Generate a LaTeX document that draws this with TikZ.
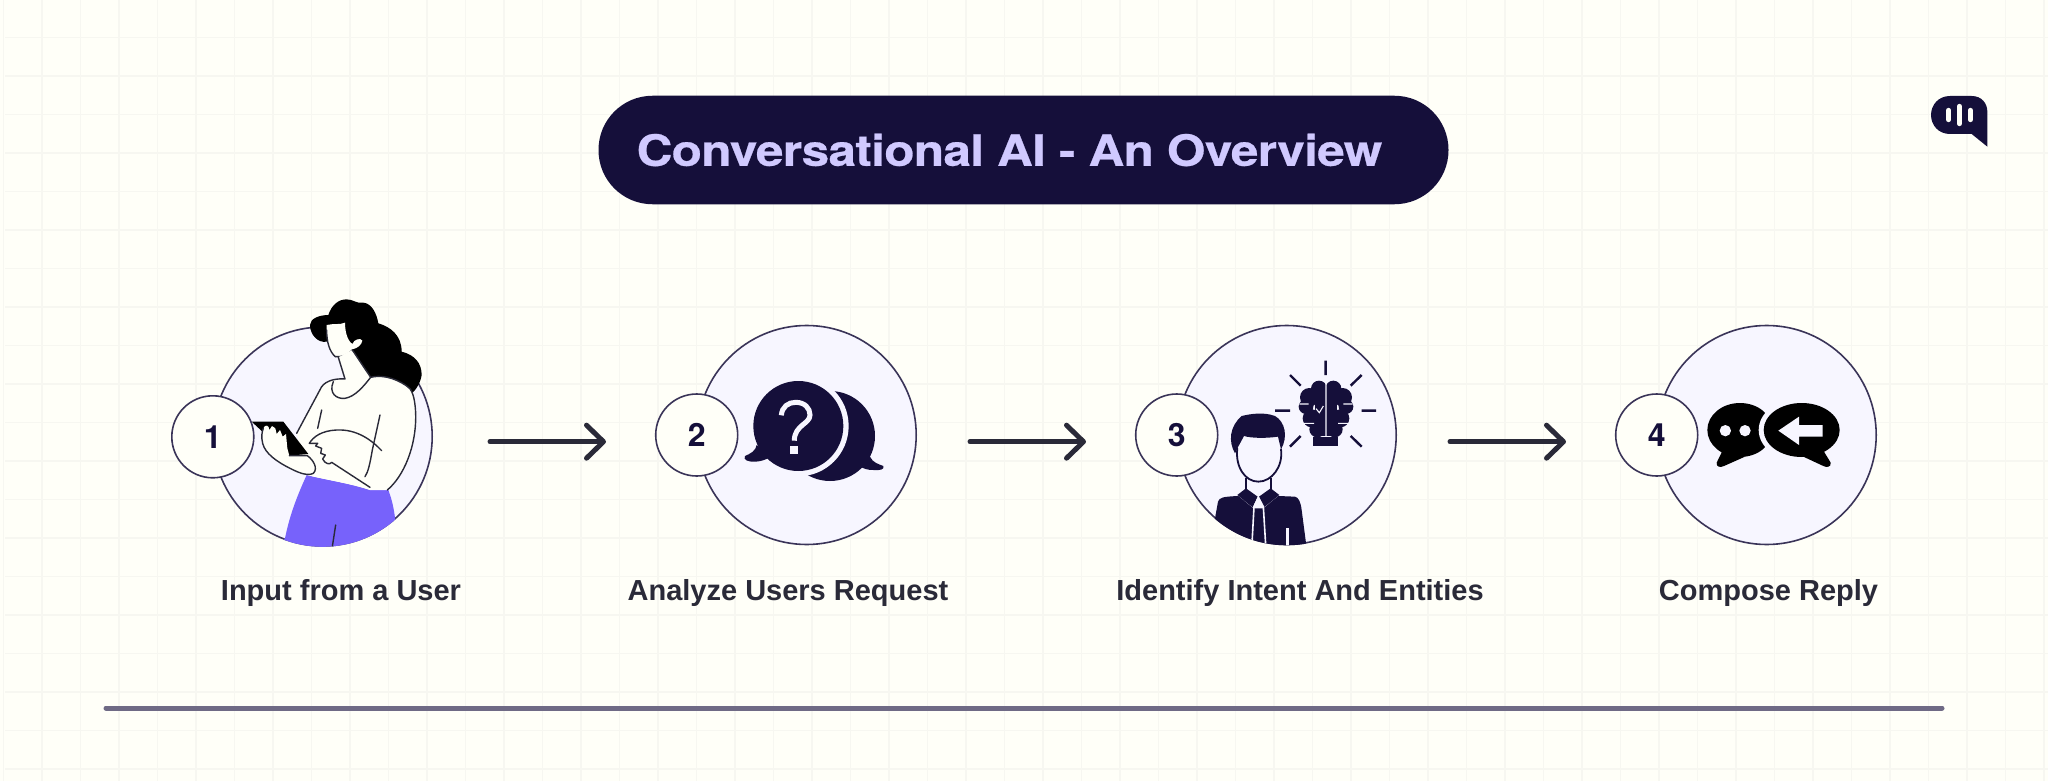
\documentclass[tikz,border=0pt]{standalone}
\usepackage{fontspec}
\usetikzlibrary{arrows.meta}
\setmainfont{Liberation Sans}
\newfontfamily\titlefont[FakeStretch=1.15,LetterSpace=-1.5,FakeBold=0.6]{TeX Gyre Heros}
\newfontfamily\digitfont{TeX Gyre Heros}
\definecolor{bgc}{HTML}{FFFFF8}
\definecolor{gridc}{HTML}{F7F7F1}
\definecolor{navy}{HTML}{150F3A}
\definecolor{ringc}{HTML}{3A3458}
\definecolor{lav}{HTML}{F7F6FF}
\definecolor{lilac}{HTML}{D0C9FF}
\definecolor{purp}{HTML}{7762FB}
\definecolor{inkc}{HTML}{2A2A38}
\definecolor{rulec}{HTML}{6F6A85}
\tikzset{x=1pt,y=-1pt,
 bigcirc/.style={circle,draw=ringc,line width=1.6pt,fill=lav,minimum size=219pt,inner sep=0pt},
 numcirc/.style={circle,draw=ringc,line width=1.6pt,fill=bgc,minimum size=82pt,inner sep=0pt,text=navy,font=\digitfont\fontsize{32}{32}\selectfont\bfseries},
 captext/.style={text=inkc,font=\fontsize{29}{30}\selectfont\bfseries},
 flowline/.style={draw=inkc,line width=5pt,line cap=round,line join=round,-{Straight Barb[length=17pt,width=33pt,round]}},
 figline/.style={draw=inkc,line width=1.4pt,line cap=round,line join=round},
 ray/.style={draw=navy,line width=2.4pt},
 zoomone/.style={shift={(150,280)},scale=1/3},
 zoomtwo/.style={shift={(640,310)},scale=1/3},
 zoomthree/.style={shift={(1120,310)},scale=1/3},
 zoomfour/.style={shift={(1600,310)},scale=1/3},
 zoomlogo/.style={shift={(1900,70)},scale=1/3}}
\begin{document}
\begin{tikzpicture}
\useasboundingbox (0,0) rectangle (2048,781);
\fill[bgc] (0,0) rectangle (2048,781);
\foreach \i in {0,...,53}{\draw[gridc,line width=1.1pt] ({3.5+38.5*\i},0) -- ({3.5+38.5*\i},781);}
\foreach \i in {0,...,20}{\draw[gridc,line width=1.1pt] (5,{-1+38.5*\i}) -- (2048,{-1+38.5*\i});}
% title
\node[fill=navy,rounded corners=54pt,minimum width=850pt,minimum height=108.5pt,inner sep=0pt] (title) at (1023.5,150) {};
\node[text=lilac,font=\titlefont\fontsize{43}{43}\selectfont\bfseries] (titletext) at (1009.5,150) {Conversational AI - An Overview};
% logo
\begin{scope}[zoomlogo]
\fill[navy] (150,78) -- (215,78) .. controls (245,78) and (262,100) .. (262,125) -- (262,230) -- (215,192) -- (150,192) .. controls (115,192) and (93,165) .. (93,135) .. controls (93,105) and (115,78) .. (150,78) -- cycle;
\draw[bgc,line width=5pt,line cap=round] (146,121) -- (146,149) (178,109) -- (178,161) (211,121) -- (211,149);
\end{scope}
% large circles
\node[bigcirc] (big1) at (322.7,436.5) {};
\node[bigcirc] (big2) at (806.7,435) {};
\node[bigcirc] (big3) at (1286.7,435) {};
\node[bigcirc] (big4) at (1766.7,435) {};
% woman
\begin{scope}[zoomone]
\begin{scope}
\clip (518,469.5) circle (331);
\fill[purp] (470,585) .. controls (530,600) and (600,610) .. (660,630) -- (715,630) .. controls (728,665) and (732,690) .. (736,720) -- (745,830) -- (360,830) -- (405,775) .. controls (420,700) and (445,640) .. (470,585) -- cycle;
\draw[figline] (557,735) -- (547,800);
\end{scope}
\fill[black] (530,185) .. controls (505,190) and (480,165) .. (480,135) .. controls (480,115) and (510,105) .. (535,105) .. controls (545,75) and (565,58) .. (590,58) .. controls (610,58) and (620,72) .. (640,68) .. controls (665,70) and (680,100) .. (685,130) .. controls (720,140) and (755,165) .. (755,215) .. controls (795,225) and (815,250) .. (815,285) .. controls (812,305) and (800,330) .. (782,342) -- (660,292) -- (605,210) -- (590,190) -- cycle;
\fill[bgc] (530,135) .. controls (550,130) and (570,135) .. (585,128) .. controls (585,150) and (590,180) .. (607,192) .. controls (612,178) and (632,172) .. (637,182) .. controls (635,195) and (622,205) .. (607,208) .. controls (600,225) and (570,235) .. (552,228) .. controls (535,215) and (528,170) .. (530,135) -- cycle;
\draw[figline] (607,210) .. controls (595,225) and (575,232) .. (556,230);
\draw[figline] (530,150) .. controls (530,185) and (538,215) .. (556,230);
% jumper
\fill[bgc] (565,232) -- (585,297) .. controls (560,295) and (530,300) .. (515,320) -- (440,460) -- (470,585) .. controls (530,600) and (600,610) .. (660,630) -- (712,630) .. controls (760,590) and (800,500) .. (797,400) .. controls (795,350) and (785,325) .. (770,318) .. controls (730,290) and (690,285) .. (662,292) -- (607,210) -- cycle;
\draw[figline] (565,232) -- (585,297) .. controls (560,295) and (530,300) .. (515,320) -- (440,460);
\draw[figline] (607,210) -- (662,292) .. controls (690,285) and (730,290) .. (770,318) .. controls (785,325) and (795,350) .. (797,400) .. controls (800,500) and (760,590) .. (712,630);
\draw[figline] (550,305) .. controls (535,340) and (560,358) .. (585,355) .. controls (615,350) and (640,320) .. (662,292);
\draw[figline] (515,390) -- (503,445);
% tablet and holding hand
\fill[black] (305,425) -- (400,425) -- (475,522) -- (415,527) -- cycle;
\fill[bgc] (340,445) .. controls (345,432) and (358,435) .. (358,450) -- (366,438) -- (376,445) -- (380,462) -- (390,450) -- (398,470) -- (408,462) -- (412,505) -- (418,527) -- (472,527) .. controls (490,540) and (505,565) .. (490,580) .. controls (470,590) and (440,575) .. (420,565) .. controls (380,545) and (345,520) .. (338,490) .. controls (333,470) and (336,455) .. (340,445) -- cycle;
\draw[figline] (418,527) -- (472,527) .. controls (490,540) and (505,565) .. (490,580) .. controls (470,590) and (440,575) .. (420,565) .. controls (380,545) and (345,520) .. (338,490) .. controls (333,470) and (336,455) .. (340,445);
% pointing hand and sleeve
\fill[bgc] (478,490) .. controls (505,455) and (560,445) .. (610,452) .. controls (650,465) and (680,495) .. (695,512) -- (660,622) -- (545,548) -- (520,545) -- (505,500) -- cycle;
\draw[figline] (690,405) -- (667,510) .. controls (660,550) and (655,575) .. (645,590);
\draw[figline] (478,490) .. controls (490,470) and (515,452) .. (560,450) .. controls (620,447) and (665,480) .. (695,512);
\draw[figline] (478,490) -- (503,490) -- (497,498) -- (515,505) -- (512,520) -- (526,525) -- (518,537) .. controls (525,552) and (540,555) .. (545,547) -- (660,622);
\end{scope}
% question bubbles
\begin{scope}[zoomtwo]
\fill[navy] (570,378) circle (135);
\fill[navy] (690,440) .. controls (698,458) and (715,462) .. (730,468) .. controls (735,478) and (720,482) .. (700,480) .. controls (685,480) and (670,478) .. (655,465) -- cycle;
\fill[lav] (475,348) circle (151);
\fill[navy] (475,348) circle (135);
\fill[navy] (350,405) .. controls (348,422) and (330,432) .. (315,438) .. controls (308,450) and (325,456) .. (345,455) .. controls (360,455) and (375,450) .. (395,440) -- cycle;
\draw[lav,line width=5pt] (424,316) .. controls (426,290) and (445,277) .. (467,277) .. controls (495,277) and (510,295) .. (510,315) .. controls (510,342) and (463,345) .. (463,392);
\fill[lav] (451,407) rectangle (475,432);
\end{scope}
% person and brain
\begin{scope}[zoomthree]
\begin{scope}
\clip (500,375) circle (331);
\fill[navy] (285,625) -- (294,575) .. controls (298,562) and (310,560) .. (355,558) -- (400,595) -- (430,595) -- (475,558) -- (525,560) .. controls (535,562) and (542,575) .. (545,600) -- (562,730) -- (270,730) -- cycle;
\fill[navy] (378,535) -- (352,555) -- (398,592) -- (413,560) -- cycle;
\fill[navy] (452,535) -- (478,555) -- (432,592) -- (417,560) -- cycle;
\draw[lav,line width=1.6pt,line join=round] (402,590) -- (415,562) -- (430,590) -- cycle;
\draw[lav,line width=1.6pt] (402,590) -- (396,700) (430,590) -- (437,705);
\draw[lav,line width=2.6pt] (503,655) -- (503,720);
\end{scope}
\fill[navy] (345,430) .. controls (325,395) and (328,350) .. (365,318) .. controls (390,312) and (430,305) .. (465,318) .. controls (495,335) and (505,380) .. (483,418) -- (474,380) .. controls (440,385) and (395,385) .. (372,378) -- (352,415) -- cycle;
\draw[navy,line width=1.8pt,line cap=round] (352,415) .. controls (345,470) and (375,515) .. (415,515) .. controls (455,515) and (490,470) .. (483,418);
\draw[navy,line width=1.8pt] (378,505) -- (378,540) (452,505) -- (452,540);
\fill[navy] (578,380) rectangle (655,408);
\fill[navy] (585,225) rectangle (651,378);
\foreach \cx/\cy/\cr in {597/236/24,568/262/28,558/290/22,575/325/27,592/358/24,640/236/24,668/262/28,678/290/22,661/325/27,644/358/24}{\fill[navy] (\cx,\cy) circle (\cr);}
\draw[lav,line width=1.1pt] (618,214) -- (618,378) (610,288) -- (598,308) -- (588,296) (538,282) -- (566,282) (698,282) -- (670,282) (552,340) -- (582,340) (684,340) -- (654,340);
\draw[ray] (617,152) -- (617,195) (725,302) -- (768,302) (465,302) -- (510,302) (510,195) -- (542,227) (725,195) -- (692,227) (510,410) -- (542,378) (725,410) -- (692,378);
\end{scope}
% chat bubbles
\begin{scope}[zoomfour]
\fill[black] (420,360) ellipse [x radius=98,y radius=81];
\fill[black] (366,425) -- (350,458) .. controls (348,472) and (362,473) .. (372,468) -- (435,440) -- cycle;
\fill[lav] (605,360) ellipse [x radius=129,y radius=96];
\fill[black] (605,360) ellipse [x radius=114,y radius=81];
\fill[black] (672,425) -- (692,458) .. controls (694,472) and (680,473) .. (670,468) -- (610,440) -- cycle;
\fill[lav] (376,362) circle (17) (435,362) circle (17);
\fill[lav] (535,362) -- (597,320) -- (597,345) -- (668,345) -- (668,380) -- (597,380) -- (597,405) -- cycle;
\end{scope}
% number circles
\node[numcirc] (num1) at (212.8,436.8) {1};
\node[numcirc] (num2) at (696.7,435) {2};
\node[numcirc] (num3) at (1176.7,435) {3};
\node[numcirc] (num4) at (1656.7,435) {4};
% captions
\node[captext] (cap1) at (341,592.5) {Input from a User};
\node[captext] (cap2) at (788,592.5) {Analyze Users Request};
\node[captext] (cap3) at (1300,592.5) {Identify Intent And Entities};
\node[captext] (cap4) at (1768.5,592.5) {Compose Reply};
% arrows
\coordinate (a1s) at (490,441.7); \coordinate (a1e) at (606,441.7);
\coordinate (a2s) at (970,441.7); \coordinate (a2e) at (1086,441.7);
\coordinate (a3s) at (1450,441.7); \coordinate (a3e) at (1566,441.7);
\draw[flowline] (a1s) -- (a1e);
\draw[flowline] (a2s) -- (a2e);
\draw[flowline] (a3s) -- (a3e);
% bottom rule
\coordinate (ruleL) at (106,708); \coordinate (ruleR) at (1942,708);
\draw[rulec,line width=5pt,line cap=round] (ruleL) -- (ruleR);
\end{tikzpicture}
\end{document}
